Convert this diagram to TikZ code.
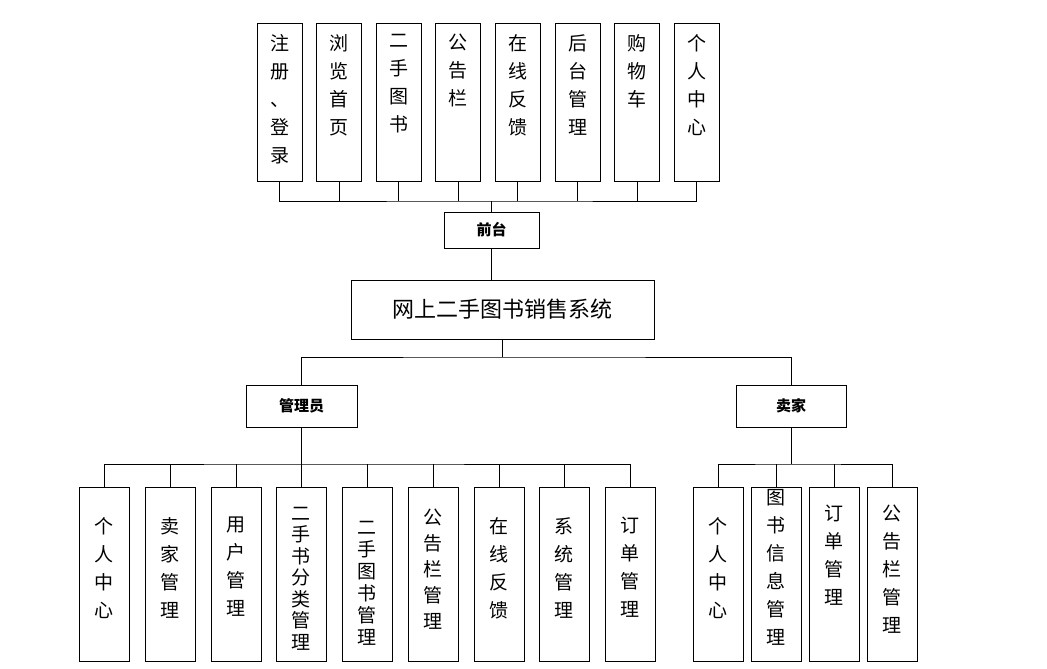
\documentclass[tikz,border=0pt]{standalone}
\usepackage{fontspec}
\setmainfont{Noto Sans CJK SC}
\begin{document}
\begin{tikzpicture}[x=1pt,y=-1pt,
  bx/.style={draw,line width=1pt,inner sep=0pt},
  vt/.style={anchor=north,align=center,inner sep=0pt,font=\fontsize{19}{28}\selectfont},
  hd/.style={draw,line width=1pt,inner sep=0pt,font=\fontsize{15}{18}\selectfont\bfseries},
  ln/.style={line width=1pt}]
\useasboundingbox (0,0) rectangle (1047,669);
% top
\foreach \i/\t in {0/{注\\册\\、\\登\\录},1/{浏\\览\\首\\页},2/{二\\手\\图\\书},3/{公\\告\\栏},4/{在\\线\\反\\馈},5/{后\\台\\管\\理},6/{购\\物\\车},7/{个\\人\\中\\心}}{
  \node[bx,minimum width=45pt,minimum height=157pt] (t\i) at (279.5+59.6*\i,102.5) {};
  \node[vt] at (279.5+59.6*\i,34) {\t};
}
\node[hd,minimum width=95pt,minimum height=36pt] (ft) at (491.5,230) {前台};
\node[draw,line width=1pt,minimum width=303pt,minimum height=59pt,inner sep=0pt,font=\fontsize{22}{24}\selectfont] (sys) at (502.5,309.5) {网上二手图书销售系统};
\coordinate (tb) at (491.5,201);
\draw[ln] (t0.south) |- (tb) -| (t7.south);
\foreach \i in {1,...,6}{\draw[ln] (t\i.south) -- (t\i.south |- tb);}
\draw[ln] (ft.north) -- (tb);
\draw[ln] (ft.south) -- (ft.south |- sys.north);
% level 2
\node[hd,minimum width=111pt,minimum height=42pt] (adm) at (301.5,406) {管理员};
\node[hd,minimum width=110pt,minimum height=42pt] (sel) at (791,406) {卖家};
\coordinate (mb) at (502.5,357);
\draw[ln] (sys.south) -- (mb);
\draw[ln] (adm.north) |- (mb) -| (sel.north);
% admin children
\foreach \i/\c/\t/\s/\y in {0/104/{个\\人\\中\\心}/28/517,1/170/{卖\\家\\管\\理}/28/517,2/236/{用\\户\\管\\理}/28/517,3/301/{二\\手\\书\\分\\类\\管\\理}/21.5/507,4/367/{二\\手\\图\\书\\管\\理}/22/521,5/433/{公\\告\\栏\\管\\理}/26/509,6/499/{在\\线\\反\\馈}/28/517,7/564/{系\\统\\管\\理}/28/517,8/630/{订\\单\\管\\理}/28/517}{
  \node[bx,minimum width=50pt,minimum height=174pt] (a\i) at (\c,574) {};
  \node[vt,font=\fontsize{19}{\s}\selectfont] at (\c,\y) {\t};
}
\coordinate (ab) at (301.5,464);
\draw[ln] (a0.north) |- (ab) -| (a8.north);
\foreach \i in {1,...,7}{\draw[ln] (a\i.north) -- (a\i.north |- ab);}
\draw[ln] (adm.south) -- (ab);
% seller children
\foreach \i/\c/\t/\y in {0/718/{个\\人\\中\\心}/517,1/776/{图\\书\\信\\息\\管\\理}/489,2/834/{订\\单\\管\\理}/505,3/892/{公\\告\\栏\\管\\理}/505}{
  \node[bx,minimum width=50pt,minimum height=174pt] (s\i) at (\c,574) {};
  \node[vt] at (\c,\y) {\t};
}
\coordinate (sb) at (791,464);
\draw[ln] (s0.north) |- (sb) -| (s3.north);
\foreach \i in {1,2}{\draw[ln] (s\i.north) -- (s\i.north |- sb);}
\draw[ln] (sel.south) -- (sb);
\end{tikzpicture}
\end{document}
